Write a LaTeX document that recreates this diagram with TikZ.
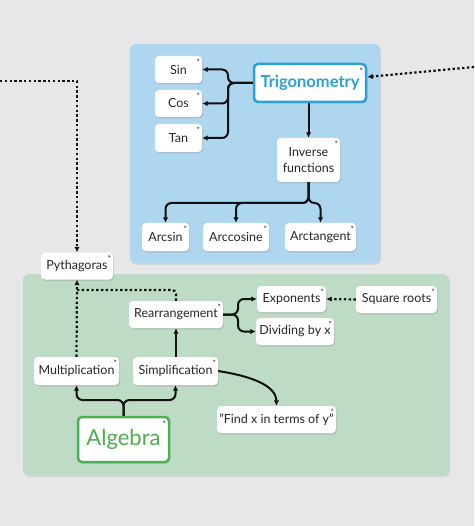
\documentclass[tikz,border=0pt]{standalone}
\usepackage{fontspec}
\setmainfont{Lato}
\usetikzlibrary{shadows,arrows.meta,calc}
\definecolor{bgc}{HTML}{E7E7E9}
\definecolor{bluepanel}{HTML}{AED6EE}
\definecolor{greenpanel}{HTML}{BEDCC5}
\definecolor{trigblue}{HTML}{2A9FDA}
\definecolor{alggreen}{HTML}{4CAF50}
\definecolor{txt}{HTML}{262626}
\definecolor{edgec}{HTML}{111111}
\begin{document}
\begin{tikzpicture}[x=1pt,y=-1pt,
  panel/.style={rounded corners=6pt, drop shadow={opacity=0.18,shadow xshift=1pt,shadow yshift=-2pt}},
  box/.style={fill=white, rounded corners=4pt, inner sep=0pt, text=txt,
     font=\fontsize{12.5}{15}\selectfont, align=center,
     drop shadow={opacity=0.25,shadow xshift=1pt,shadow yshift=-1.5pt}},
  arr/.style={draw=edgec, line width=2pt, rounded corners=6pt, -{Latex[length=5.5pt,width=5.5pt]}},
  dotarr/.style={draw=edgec, line width=2.2pt, dash pattern=on 2.4pt off 2.4pt, -{Latex[length=5.5pt,width=5.5pt]}},
  dotline/.style={draw=edgec, line width=2.2pt, dash pattern=on 2.4pt off 2.4pt}
]
\useasboundingbox[fill=bgc] (0,0) rectangle (474,526);
% panels
\fill[bluepanel, panel] (130,44) rectangle (380,263);
\fill[greenpanel, panel] (23,274) rectangle (449,475);

% nodes
\node[box, minimum width=47pt, minimum height=27pt] (sin) at (178.5,69.5) {Sin};
\node[box, minimum width=47pt, minimum height=27pt] (cos) at (178.5,103.5) {Cos};
\node[box, minimum width=47pt, minimum height=28pt] (tan) at (178.5,138) {Tan};
\node[box, draw=trigblue, line width=2.5pt, minimum width=112pt, minimum height=38pt, text=trigblue,
      font=\fontsize{16.5}{18}\selectfont\bfseries] (trig) at (310,83) {Trigonometry};
\node[box, minimum width=63pt, minimum height=44pt, font=\fontsize{12.5}{15.5}\selectfont] (inv) at (308.5,160) {Inverse\\functions};
\node[box, minimum width=47pt, minimum height=28pt] (arcsin) at (165.5,237) {Arcsin};
\node[box, minimum width=66pt, minimum height=28pt] (arccos) at (236,237) {Arccosine};
\node[box, minimum width=71pt, minimum height=28pt] (arctan) at (320.5,237) {Arctangent};
\node[box, minimum width=72pt, minimum height=27pt] (pyth) at (77,266) {Pythagoras};
\node[box, minimum width=94pt, minimum height=27pt] (rearr) at (176,314.5) {Rearrangement};
\node[box, minimum width=69pt, minimum height=26pt] (expo) at (291.5,299) {Exponents};
\node[box, minimum width=81pt, minimum height=27pt] (sqrt) at (396.5,299.5) {Square roots};
\node[box, minimum width=78pt, minimum height=27pt] (divid) at (295,331.5) {Dividing by x};
\node[box, minimum width=85pt, minimum height=28pt] (mult) at (76.5,371) {Multiplication};
\node[box, minimum width=85pt, minimum height=28pt] (simp) at (175.5,371) {Simplification};
\node[box, minimum width=119pt, minimum height=27pt] (findx) at (276.5,419.5) {"Find x in terms of y"};
\node[box, draw=alggreen, line width=2.5pt, minimum width=91pt, minimum height=45pt, text=alggreen,
      font=\fontsize{22}{24}\selectfont] (alg) at (123.5,439.5) {Algebra};

% corner dots
\foreach \n in {sin,cos,tan,inv,arcsin,arccos,arctan,pyth,rearr,expo,sqrt,divid,mult,simp,findx}
  \fill[gray] ([xshift=-4pt,yshift=-4pt]\n.north east) circle (1.3pt);
\foreach \n in {trig,alg}
  \fill[gray] ([xshift=-6pt,yshift=-6pt]\n.north east) circle (1.3pt);

% connectors: trigonometry
\coordinate (tj) at (228,83);
\draw[arr] (trig.west) -- (tj) |- (sin.east);
\draw[arr] (trig.west) -- (tj) |- (cos.east);
\draw[arr] (trig.west) -- (tj) |- (tan.east);
\draw[arr] (trig.south -| inv.north) -- (inv.north);
\coordinate (ij) at (308.5,203);
\draw[arr] (inv.south) -- (ij) -| (arcsin.north);
\draw[arr] (inv.south) -- (ij) -| (arccos.north);
\draw[arr] (inv.south) -- (ij) -| (arctan.north);

% dotted long links
\coordinate (lft) at (0,81);
\coordinate (rgt) at (474,67);
\draw[dotarr] (lft) -| (pyth.north);
\draw[dotarr] (rgt) -- ([yshift=6pt]trig.east);

% algebra
\coordinate (aj) at (123.5,400);
\draw[arr] (alg.north) -- (aj) -| (mult.south);
\draw[arr] (alg.north) -- (aj) -| (simp.south);
\draw[arr] (simp.north -| rearr.south) -- (rearr.south);
\coordinate (rj) at (238,314.5);
\draw[arr] (rearr.east) -- (rj) |- (expo.west);
\draw[arr] (rearr.east) -- (rj) |- (divid.west);
\draw[dotarr] (sqrt.west) -- (expo.east);
\draw[arr] (simp.east) .. controls (250,376) and (276,385) .. (findx.north);
\coordinate (pj) at (77,290);
\draw[dotarr] (mult.north) -- (pyth.south);
\draw[dotline, rounded corners=4pt] (rearr.north) -- (rearr.north |- pj) -- (pj);
\end{tikzpicture}
\end{document}
